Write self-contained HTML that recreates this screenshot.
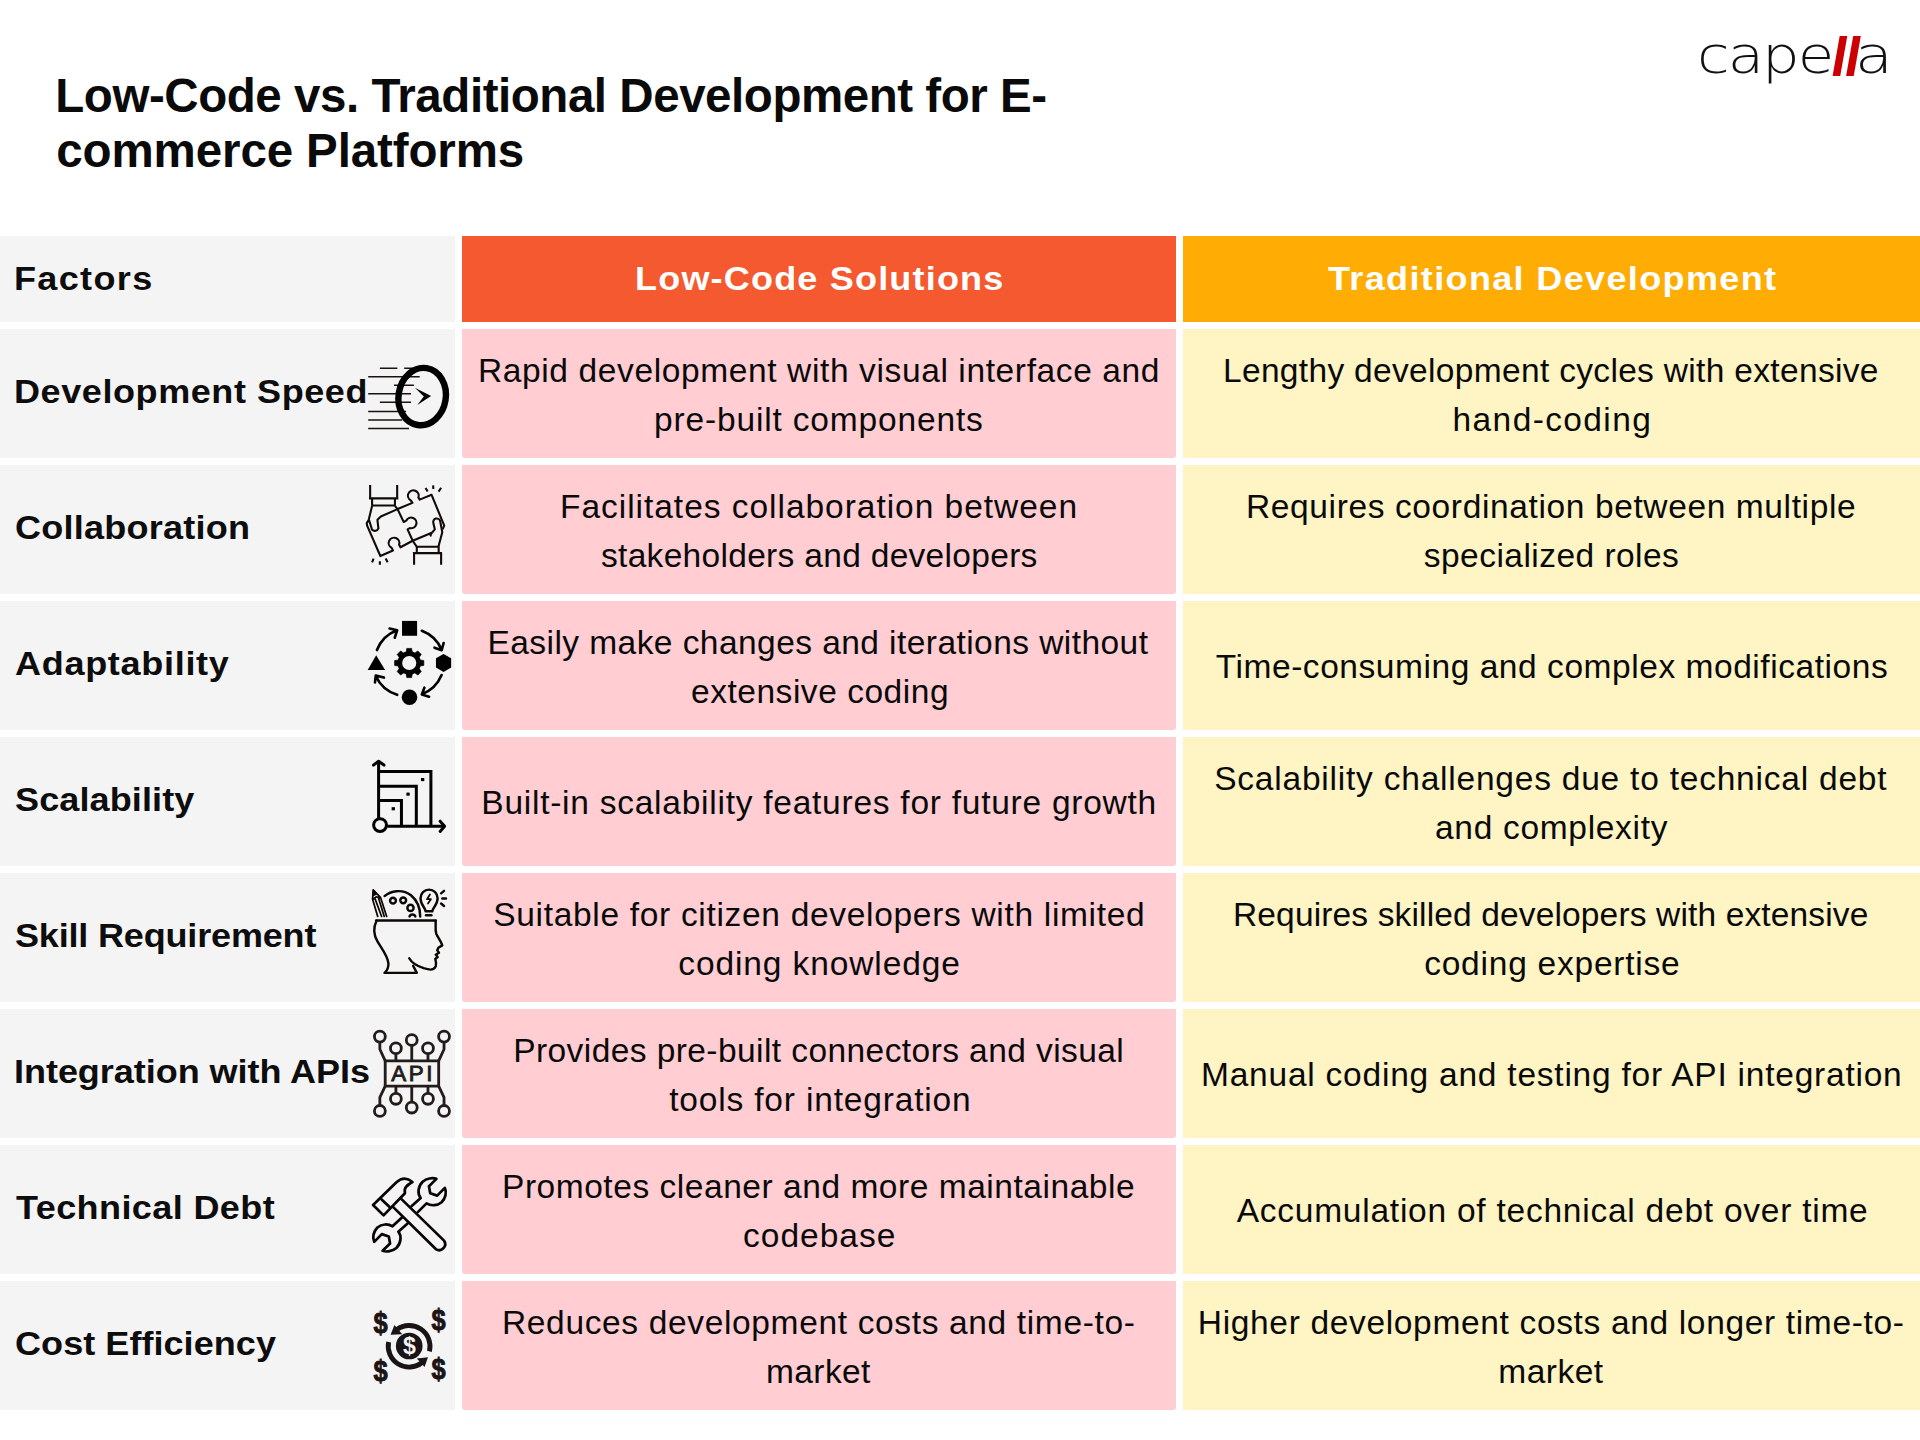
<!DOCTYPE html><html lang="en"><head><meta charset="utf-8"><title>Low-Code vs. Traditional Development for E-commerce Platforms</title><style>
html,body{margin:0;padding:0;background:#fff}
body{width:1920px;height:1440px;position:relative;overflow:hidden;font-family:'Liberation Sans', sans-serif;color:#111}
.ln{position:absolute;white-space:nowrap;line-height:1.117;display:block}
.b{font-size:33.5px;font-weight:400;color:#0a0a0a}
.l{font-size:34px;font-weight:700;color:#0d0d0d;transform:scaleX(1.06);transform-origin:0 50%}
.w{color:#fff}
.t{font-size:47.5px;font-weight:700;color:#0a0a0a}
.cell{position:absolute}
.f{left:0;width:455px;background:#f4f4f4}
.p{left:462px;width:714px;background:#ffcdd2;border-radius:0 0 3px 3px}
.y{left:1183px;width:737px;background:#fff4c4}
.hd{top:236px;height:86px}
.hp{background:#f4592f;border-radius:0}
.hy{background:#ffad05}
.lg{position:absolute;white-space:nowrap;display:block;line-height:1;transform-origin:0 100%}
.lg.a,.lg.a2{font-family:'DejaVu Sans','Liberation Sans',sans-serif;font-weight:200;font-size:51.6px;color:#111;top:29.6px;letter-spacing:-1.7px;transform:scaleX(1.15)}
.lg.a{left:1696.6px}
.lg.a2{left:1855.4px;transform:scaleX(1.2)}
.lg.r{font-family:'Liberation Sans',sans-serif;font-weight:700;font-size:55.3px;color:#cc0000;left:1826.6px;top:30px;letter-spacing:-1.7px;transform:skewX(-10deg)}
.ic{position:absolute;left:340px;width:140px;height:140px;overflow:visible}
</style></head><body>
<header><span class="ln t" style="left:55.30px;top:69.01px;letter-spacing:-0.452px">Low-Code vs. Traditional Development for E-</span><span class="ln t" style="left:56.30px;top:124.01px;letter-spacing:-0.118px">commerce Platforms</span><div class="logo" aria-label="capella"><span class="lg a">cape</span><span class="lg r">ll</span><span class="lg a2">a</span></div>
</header>
<main>
<div class="cell f hd"></div><div class="cell p hd hp"></div><div class="cell y hd hy"></div>
<span class="ln l " style="left:14.25px;top:259.73px;letter-spacing:1.258px">Factors</span>
<span class="ln l w" style="left:634.50px;top:259.73px;letter-spacing:1.11px">Low-Code Solutions</span>
<span class="ln l w" style="left:1327.75px;top:259.73px;letter-spacing:1.265px">Traditional Development</span>
<section><div class="cell f" style="top:329px;height:129px"></div><div class="cell p" style="top:329px;height:129px"></div><div class="cell y" style="top:329px;height:129px"></div>
<span class="ln l" style="left:14.30px;top:373.23px;letter-spacing:0.531px">Development Speed</span>
<span class="ln b" style="left:478.00px;top:351.68px;letter-spacing:0.619px">Rapid development with visual interface and</span>
<span class="ln b" style="left:654.00px;top:400.88px;letter-spacing:0.842px">pre-built components</span>
<span class="ln b" style="left:1223.00px;top:351.68px;letter-spacing:0.325px">Lengthy development cycles with extensive</span>
<span class="ln b" style="left:1452.60px;top:400.88px;letter-spacing:1.38px">hand-coding</span>
</section>
<section><div class="cell f" style="top:465px;height:129px"></div><div class="cell p" style="top:465px;height:129px"></div><div class="cell y" style="top:465px;height:129px"></div>
<span class="ln l" style="left:15.30px;top:509.23px;letter-spacing:0.212px">Collaboration</span>
<span class="ln b" style="left:560.00px;top:487.68px;letter-spacing:0.969px">Facilitates collaboration between</span>
<span class="ln b" style="left:601.00px;top:536.88px;letter-spacing:0.308px">stakeholders and developers</span>
<span class="ln b" style="left:1246.00px;top:487.68px;letter-spacing:0.622px">Requires coordination between multiple</span>
<span class="ln b" style="left:1423.80px;top:536.88px;letter-spacing:0.463px">specialized roles</span>
</section>
<section><div class="cell f" style="top:601px;height:129px"></div><div class="cell p" style="top:601px;height:129px"></div><div class="cell y" style="top:601px;height:129px"></div>
<span class="ln l" style="left:15.30px;top:645.23px;letter-spacing:0.652px">Adaptability</span>
<span class="ln b" style="left:487.50px;top:623.68px;letter-spacing:0.439px">Easily make changes and iterations without</span>
<span class="ln b" style="left:691.00px;top:672.88px;letter-spacing:0.533px">extensive coding</span>
<span class="ln b" style="left:1215.75px;top:648.48px;letter-spacing:0.551px">Time-consuming and complex modifications</span>
</section>
<section><div class="cell f" style="top:737px;height:129px"></div><div class="cell p" style="top:737px;height:129px"></div><div class="cell y" style="top:737px;height:129px"></div>
<span class="ln l" style="left:15.30px;top:781.23px;letter-spacing:0.094px">Scalability</span>
<span class="ln b" style="left:481.30px;top:784.48px;letter-spacing:0.748px">Built-in scalability features for future growth</span>
<span class="ln b" style="left:1214.20px;top:759.68px;letter-spacing:0.781px">Scalability challenges due to technical debt</span>
<span class="ln b" style="left:1435.00px;top:808.88px;letter-spacing:0.692px">and complexity</span>
</section>
<section><div class="cell f" style="top:873px;height:129px"></div><div class="cell p" style="top:873px;height:129px"></div><div class="cell y" style="top:873px;height:129px"></div>
<span class="ln l" style="left:15.30px;top:917.23px;letter-spacing:-0.177px">Skill Requirement</span>
<span class="ln b" style="left:493.20px;top:895.68px;letter-spacing:0.688px">Suitable for citizen developers with limited</span>
<span class="ln b" style="left:678.30px;top:944.88px;letter-spacing:0.893px">coding knowledge</span>
<span class="ln b" style="left:1233.00px;top:895.68px;letter-spacing:0.146px">Requires skilled developers with extensive</span>
<span class="ln b" style="left:1424.20px;top:944.88px;letter-spacing:0.773px">coding expertise</span>
</section>
<section><div class="cell f" style="top:1009px;height:129px"></div><div class="cell p" style="top:1009px;height:129px"></div><div class="cell y" style="top:1009px;height:129px"></div>
<span class="ln l" style="left:14.30px;top:1053.23px;letter-spacing:-0.047px">Integration with APIs</span>
<span class="ln b" style="left:513.20px;top:1031.68px;letter-spacing:0.426px">Provides pre-built connectors and visual</span>
<span class="ln b" style="left:669.20px;top:1080.88px;letter-spacing:0.83px">tools for integration</span>
<span class="ln b" style="left:1201.00px;top:1056.48px;letter-spacing:0.773px">Manual coding and testing for API integration</span>
</section>
<section><div class="cell f" style="top:1145px;height:129px"></div><div class="cell p" style="top:1145px;height:129px"></div><div class="cell y" style="top:1145px;height:129px"></div>
<span class="ln l" style="left:16.30px;top:1189.23px;letter-spacing:0.363px">Technical Debt</span>
<span class="ln b" style="left:502.00px;top:1167.68px;letter-spacing:0.541px">Promotes cleaner and more maintainable</span>
<span class="ln b" style="left:743.00px;top:1216.88px;letter-spacing:1.0px">codebase</span>
<span class="ln b" style="left:1236.70px;top:1192.48px;letter-spacing:0.759px">Accumulation of technical debt over time</span>
</section>
<section><div class="cell f" style="top:1281px;height:129px"></div><div class="cell p" style="top:1281px;height:129px"></div><div class="cell y" style="top:1281px;height:129px"></div>
<span class="ln l" style="left:15.30px;top:1325.23px;letter-spacing:0.04px">Cost Efficiency</span>
<span class="ln b" style="left:502.00px;top:1303.68px;letter-spacing:0.649px">Reduces development costs and time-to-</span>
<span class="ln b" style="left:766.00px;top:1352.88px;letter-spacing:0.4px">market</span>
<span class="ln b" style="left:1197.85px;top:1303.68px;letter-spacing:0.658px">Higher development costs and longer time-to-</span>
<span class="ln b" style="left:1498.30px;top:1352.88px;letter-spacing:0.48px">market</span>
</section>
<svg class="ic" style="top:340px" viewBox="0 0 1440 1440" aria-label="speed icon">
<g stroke="#1c120e" stroke-width="15" fill="none">
<path d="M410 290H590M660 290H760M290 378H820M555 465H760M290 553H730M410 640H730M290 735H680M290 823H640M290 910H710"/>
</g>
<ellipse cx="845" cy="582" rx="243" ry="296" transform="rotate(9 845 582)" fill="none" stroke="#000" stroke-width="66"/>
<path d="M770 490L937 575L795 668L862 582Z" fill="#000"/>
</svg>
<svg class="ic" style="top:470px" viewBox="0 0 1440 1440" aria-label="collaboration icon">
<g stroke="#120a07" stroke-width="21.5" fill="none" stroke-linejoin="round" stroke-linecap="butt">
<path d="M310 155V292M588 155V292M298 292H600M330 292V365M565 292V365M322 365H572"/>
<path d="M330 370L297 505M565 370L592 402"/>
<path d="M592 402L745 338L728 312A55 55 0 1 1 806 282L820 305L942 255L1072 572L1055 610"/>
<path d="M592 402L655 535L682 520A55 55 0 1 1 718 598L695 610L748 728"/>
<path d="M592 402L420 478L385 512L395 600A40 40 0 0 1 330 615L297 510L275 545L278 570L415 885L545 828L530 800A55 55 0 1 1 608 768L622 795L748 728L950 642"/>
<path d="M915 660L950 642L935 685Z" fill="#120a07" stroke-width="8"/>
<path d="M950 642L975 610L960 545A36 36 0 0 1 1030 525L1052 640L1012 790"/>
<path d="M748 728L790 790M782 790H1022M790 790V855M1015 790V855M750 855H1050M762 855V975M1040 855V975"/>
<path d="M880 185L902 222M958 158L960 196M1040 183L1014 222M345 912L330 950M410 938V975M470 910L490 948"/>
</g>
</svg>
<svg class="ic" style="top:600px" viewBox="0 0 1440 1440" aria-label="adaptability icon">
<g fill="#000">
<rect x="638" y="215" width="155" height="153"/>
<path d="M1065 555L1143 600V695L1065 740L987 695V600Z"/>
<circle cx="715" cy="1000" r="80"/>
<path d="M372 568L464 720H285Z"/>
</g>
<g fill="none" stroke="#000" stroke-width="27" stroke-linecap="round" stroke-linejoin="round">
<path d="M380 515A357 357 0 0 1 585 312M510 294L588 312L563 388"/>
<path d="M842 317A357 357 0 0 1 1045 512M972 490L1046 516L1066 442"/>
<path d="M1045 772A357 357 0 0 1 845 968M868 902L842 972L916 994"/>
<path d="M588 975A357 357 0 0 1 368 782M360 848L368 778L452 798"/>
</g>
<g transform="translate(712 648)">
<circle r="97" fill="none" stroke="#000" stroke-width="48"/>
<g fill="#000" stroke="#000" stroke-width="7" stroke-linejoin="round">
<path d="M-32 -108L-25 -150H25L32 -108Z"/>
<path d="M-32 -108L-25 -150H25L32 -108Z" transform="rotate(45)"/>
<path d="M-32 -108L-25 -150H25L32 -108Z" transform="rotate(90)"/>
<path d="M-32 -108L-25 -150H25L32 -108Z" transform="rotate(135)"/>
<path d="M-32 -108L-25 -150H25L32 -108Z" transform="rotate(180)"/>
<path d="M-32 -108L-25 -150H25L32 -108Z" transform="rotate(225)"/>
<path d="M-32 -108L-25 -150H25L32 -108Z" transform="rotate(270)"/>
<path d="M-32 -108L-25 -150H25L32 -108Z" transform="rotate(315)"/>
</g>
</g>
</svg>
<svg class="ic" style="top:740px" viewBox="0 0 1440 1440" aria-label="scalability icon">
<g fill="none" stroke="#000" stroke-width="31" stroke-linejoin="miter">
<path d="M397 815V220"/>
<path d="M344 258L397 218L452 258" stroke-linecap="round" stroke-linejoin="round"/>
<path d="M485 887H1075"/>
<path d="M1030 835L1076 887L1030 940" stroke-linecap="round" stroke-linejoin="round"/>
<circle cx="412" cy="875" r="66"/>
<path d="M397 325H935V887M397 475H785V887M397 622H632V887"/>
</g>
<g fill="#000"><rect x="833" y="391" width="34" height="32"/><rect x="683" y="541" width="34" height="32"/><rect x="531" y="691" width="34" height="32"/></g>
</svg>
<svg class="ic" style="top:870px" viewBox="0 0 1440 1440" aria-label="skill icon">
<g fill="none" stroke="#0d0705" stroke-width="25" stroke-linecap="round" stroke-linejoin="round">
<path d="M372 520H985"/>
<path d="M376 522C345 585 345 665 385 735C430 810 490 880 498 960C500 1000 485 1035 458 1058H790L752 985"/>
<path d="M712 908C740 960 800 990 860 1010C910 1025 960 1040 985 990C995 960 985 935 980 915L1005 895L985 872L1018 850L1000 825L1012 800L1052 775C1040 735 1010 700 990 655C975 610 990 565 982 522"/>
<path d="M342 205L335 300L388 478M342 205L418 285L480 478M340 300L375 275L418 288M362 300L428 478M395 285L455 478" stroke-width="18"/>
<path d="M342 203L336 268L374 250Z" fill="#0d0705" stroke-width="12"/>
<path d="M458 268C520 215 640 190 730 260C790 310 825 390 825 478"/>
<circle cx="545" cy="315" r="30"/><circle cx="650" cy="312" r="30"/><circle cx="725" cy="390" r="32"/>
<path d="M715 478A32 32 0 0 1 775 478"/>
<path d="M880 425C880 390 828 360 828 290A88 88 0 0 1 1004 290C1004 360 950 390 950 425Z"/>
<path d="M885 465H940"/>
<path d="M925 252L895 300H935L905 345" stroke-width="18"/>
<path d="M1040 240L1070 215M1052 293H1090M1040 345L1070 370"/>
</g>
</svg>
<svg class="ic" style="top:1005px" viewBox="0 0 1440 1440" aria-label="API icon">
<g fill="none" stroke="#231c1a" stroke-width="29" stroke-linejoin="round">
<rect x="465" y="575" width="550" height="260"/>
<circle cx="410" cy="325" r="56"/><circle cx="575" cy="445" r="56"/><circle cx="738" cy="360" r="56"/><circle cx="905" cy="445" r="56"/><circle cx="1070" cy="325" r="56"/>
<circle cx="410" cy="1090" r="56"/><circle cx="575" cy="965" r="56"/><circle cx="738" cy="1055" r="56"/><circle cx="905" cy="965" r="56"/><circle cx="1070" cy="1090" r="56"/>
<path d="M410 381V455L465 575M1070 381V455L1015 575M575 501V575M738 416V575M905 501V575"/>
<path d="M410 1034V950L465 835M1070 1034V950L1015 835M575 909V835M738 999V835M905 909V835"/>
</g>
<text x="752" y="784" text-anchor="middle" font-family="'Liberation Sans', sans-serif" font-size="230" letter-spacing="26" fill="#231c1a" stroke="#231c1a" stroke-width="9">API</text>
</svg>
<svg class="ic" style="top:1140px" viewBox="0 0 1440 1440" aria-label="tools icon">
<g fill="none" stroke="#080403" stroke-width="28" stroke-linejoin="round" stroke-linecap="round">
<path d="M735 682L830 597C795 555 800 480 850 430C890 395 950 385 992 400L915 475L928 548L1000 572L1078 492C1100 540 1085 600 1045 640C1000 678 935 680 890 652L800 742"/>
<path d="M695 858L600 943C635 985 630 1060 580 1110C540 1145 480 1155 438 1140L515 1065L502 992L430 968L352 1048C330 1000 345 940 385 900C430 862 495 860 540 888L640 795"/>
<path d="M622 598L1070 1035A62 62 0 0 1 985 1122L545 688"/>
<path d="M340 668L578 438C630 390 690 385 745 432C700 455 650 490 668 548L448 775Z"/>
<path d="M428 612L510 690"/>
</g>
</svg>
<svg class="ic" style="top:1275px" viewBox="0 0 1440 1440" aria-label="cost icon">
<g font-family="'Liberation Sans', sans-serif" font-weight="700" font-size="305" fill="#1a1414" stroke="#1a1414" stroke-width="9" text-anchor="middle">
<text transform="translate(418 592) scale(.86 1)">$</text><text transform="translate(1015 568) scale(.86 1)">$</text><text transform="translate(418 1090) scale(.86 1)">$</text><text transform="translate(1015 1068) scale(.86 1)">$</text>
</g>
<circle cx="712" cy="730" r="137" fill="#1a1414"/>
<text x="714" y="813" font-family="'Liberation Sans', sans-serif" font-weight="700" font-size="238" fill="#f4f4f4" text-anchor="middle">$</text>
<g fill="none" stroke="#1a1414" stroke-width="50">
<path d="M585 560A215 215 0 0 1 920 785"/>
<path d="M500 690A215 215 0 0 0 845 900"/>
</g>
<g fill="#1a1414">
<path d="M520 615L560 515L640 610Z"/>
<path d="M905 845L870 945L790 860Z"/>
</g>
</svg>

</main></body></html>
